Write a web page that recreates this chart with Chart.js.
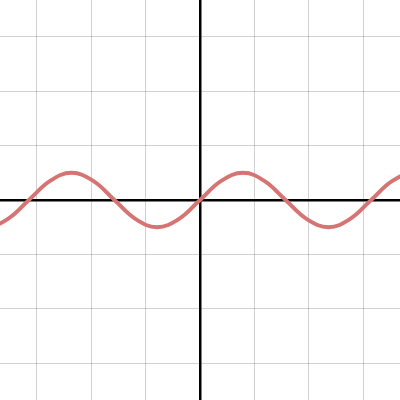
<!DOCTYPE html>
<html lang="en">
<head>
  <meta charset="UTF-8" />
  <title>Sine curve</title>
  <script src="https://cdn.jsdelivr.net/npm/chart.js"></script>
  <style>
    html, body { margin: 0; padding: 0; background: #fff; }
    #wrap { width: 400px; height: 400px; }
  </style>
</head>
<body>
  <div id="wrap"><canvas id="chartCanvas"></canvas></div>
<script>
  // points (peaks, troughs, crossings and half-way points)
  const xValues = [-4.32, -3.93, -3.53, -3.14, -2.75, -2.36, -1.96, -1.57, -1.18, -0.79, -0.39,
                   0, 0.39, 0.79, 1.18, 1.57, 1.96, 2.36, 2.75, 3.14, 3.53, 3.93, 4.32];
  const yValues = [-0.35, -0.5, -0.35, 0, 0.35, 0.5, 0.35, 0, -0.35, -0.5, -0.35,
                   0, 0.35, 0.5, 0.35, 0, -0.35, -0.5, -0.35, 0, 0.35, 0.5, 0.35];
  const gridTicks = [-3, -2, -1, 0, 1, 2, 3];

  const points = xValues.map((x, i) => ({ x: x, y: yValues[i] }));

  const gridColor = ctx => ctx.tick && ctx.tick.value === 0 ? '#000' : 'rgba(0,0,0,0.18)';
  const gridWidth = ctx => ctx.tick && ctx.tick.value === 0 ? 2.5 : 1;
  const setTicks = axis => { axis.ticks = gridTicks.map(v => ({ value: v })); };

  new Chart(document.getElementById('chartCanvas'), {
    type: 'scatter',
    data: {
      datasets: [{
        data: points,
        showLine: true,
        borderColor: 'rgb(214,115,115)',
        borderWidth: 4,
        pointRadius: 0,
        tension: 0.4
      }]
    },
    options: {
      responsive: true,
      maintainAspectRatio: false,
      animation: false,
      layout: { padding: 0 },
      plugins: { legend: { display: false }, tooltip: { enabled: false } },
      scales: {
        x: {
          min: -3.67, max: 3.67,
          afterBuildTicks: setTicks,
          ticks: { display: false },
          border: { display: false },
          grid: { color: gridColor, lineWidth: gridWidth, drawTicks: false }
        },
        y: {
          min: -3.67, max: 3.67,
          afterBuildTicks: setTicks,
          ticks: { display: false },
          border: { display: false },
          grid: { color: gridColor, lineWidth: gridWidth, drawTicks: false }
        }
      }
    }
  });
</script>
</body>
</html>
